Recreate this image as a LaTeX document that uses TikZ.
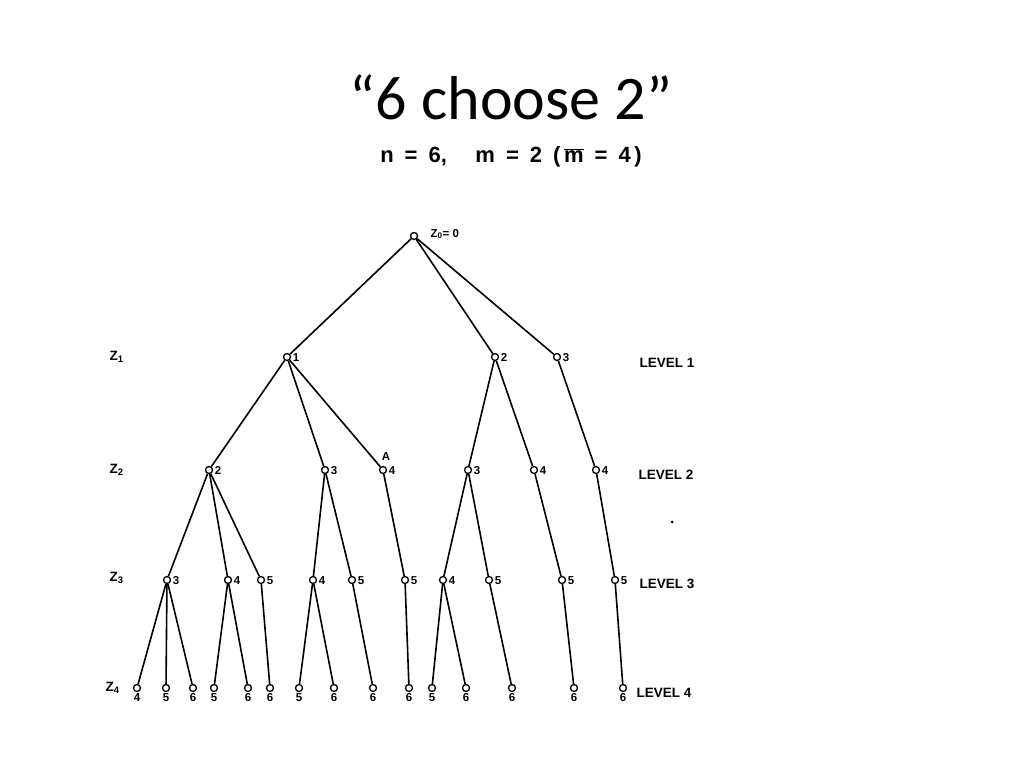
\documentclass[tikz,border=0pt]{standalone}
\usepackage{fontspec}
\setmainfont{Carlito}
\newfontfamily\scanfont{Liberation Sans}
\usepackage{tikz}
\usetikzlibrary{positioning}
\tikzset{
  vtx/.style={circle,draw,inner sep=0pt,minimum size=7pt,line width=1.3pt,fill=white},
  num/.style={font=\scanfont\bfseries\fontsize{11.5}{11.5}\selectfont,inner sep=1.5pt,
    text height=8.2pt,text depth=0pt},
  lvl/.style={font=\scanfont\bfseries\fontsize{13.5}{13.5}\selectfont,anchor=west},
  br/.style={line width=1.6pt}
}

\begin{document}
\begin{tikzpicture}[x=1pt,y=-1pt]
    \fill[white] (0,0) rectangle (1024,768);
    \useasboundingbox (0,0) rectangle (1024,768);
    % title
    \node[font=\fontsize{62}{62}\selectfont] (title) at (511,97) {“6 choose 2”};
    \node[font=\scanfont\bfseries\fontsize{22}{22}\selectfont] (sub) at (511,157)
        {n\enspace=\enspace6,\hspace{1.3em}m\enspace=\enspace2\enspace(\,$\overline{\mbox{m}}$\enspace=\enspace4\,)};
    % tree
    \node[vtx] (r) at (414,236) {};
    \node[num,anchor=west,text height=] (rl) at (429,233) {Z\textsubscript{0}= 0};
    \foreach \n/\x/\v in {a1/287/1,a2/495/2,a3/557/3}
        \node[vtx,label={[num]right:\v}] (\n) at (\x,357) {};
    \foreach \n/\x/\v in {b1/209/2,b2/325/3,b3/383/4,b4/468/3,b5/534/4,b6/596/4}
        \node[vtx,label={[num]right:\v}] (\n) at (\x,470) {};
    \foreach \n/\x/\v in {c1/167/3,c2/228/4,c3/261/5,c4/313/4,c5/352/5,c6/405/5,c7/443/4,c8/489/5,c9/562/5,c10/615/5}
        \node[vtx,label={[num]right:\v}] (\n) at (\x,580) {};
    \foreach \n/\x/\v in {d1/137/4,d2/166/5,d3/193/6,d4/214/5,d5/248/6,d6/270/6,d7/299/5,d8/334/6,
        d9/373/6,d10/409/6,d11/432/5,d12/466/6,d13/512/6,d14/574/6,d15/623/6}
        \node[vtx,label={[num,inner sep=0.5pt]below:\v}] (\n) at (\x,688) {};
    \node[num] (A) at (386,456) {A};
    \foreach \p/\c in {r/a1,r/a2,r/a3,a1/b1,a1/b2,a1/b3,a2/b4,a2/b5,a3/b6,
        b1/c1,b1/c2,b1/c3,b2/c4,b2/c5,b3/c6,b4/c7,b4/c8,b5/c9,b6/c10,
        c1/d1,c1/d2,c1/d3,c2/d4,c2/d5,c3/d6,c4/d7,c4/d8,c5/d9,c6/d10,
        c7/d11,c7/d12,c8/d13,c9/d14,c10/d15}
        \draw[br] (\p) -- (\c);
    % side labels
    \foreach \k/\y in {1/357,2/470,3/578}
        \node[lvl] (z\k) at (106,\y) {Z\textsubscript{\k}};
    \node[lvl] (z4) at (102,688) {Z\textsubscript{4}};
    \node[lvl] (l1) at (636,363) {LEVEL 1};
    \node[lvl] (l2) at (635,475) {LEVEL 2};
    \node[lvl] (l3) at (636,584) {LEVEL 3};
    \node[lvl] (l4) at (633,693) {LEVEL 4};
    \fill (672,522) circle (1.5);
\end{tikzpicture}
\end{document}
